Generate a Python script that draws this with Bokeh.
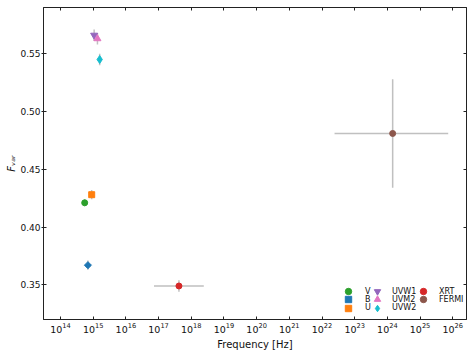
import numpy as np
from bokeh.plotting import figure
from bokeh.models import (LogAxis, LinearAxis, FixedTicker, Legend, LegendItem,
                          Range1d, PrintfTickFormatter)
from bokeh.embed import file_html
from bokeh.resources import INLINE

# ---- data ----
bands = ["V", "B", "U", "UVW1", "UVM2", "UVW2", "XRT", "FERMI"]
freq = [5.5e14, 6.9e14, 9.0e14, 1.07e15, 1.35e15, 1.58e15, 4.2e17, 1.45e24]
freq_lo = [5.5e14, 6.9e14, 9.0e14, 1.07e15, 1.35e15, 1.58e15, 7.25e16, 2.42e22]
freq_hi = [5.5e14, 6.9e14, 9.0e14, 1.07e15, 1.35e15, 1.58e15, 2.42e18, 7.25e25]
fvar = [0.421, 0.367, 0.428, 0.566, 0.563, 0.545, 0.349, 0.481]
fvar_err = [0.003, 0.004, 0.004, 0.005, 0.005, 0.005, 0.005, 0.047]
colors = ["#2ca02c", "#1f77b4", "#ff7f0e", "#9467bd", "#e377c2", "#17becf",
          "#d62728", "#8c564b"]
markers = ["circle", "square", "square", "inverted_triangle", "triangle",
           "diamond", "circle", "circle"]
angles = [0, np.pi / 4, 0, 0, 0, 0, 0, 0]
sizes = [6, 5, 6, 7, 7, 8, 6, 6]
x_ticks = [10.0 ** k for k in range(14, 27)]
y_ticks = [0.35, 0.40, 0.45, 0.50, 0.55]
# legend grid: (column, row) of each band, 3 columns x 3 rows
legend_cells = [(0, 0), (0, 1), (0, 2), (1, 0), (1, 1), (1, 2), (2, 0), (2, 1)]

FONT = "DejaVu Sans"

p = figure(width=474, height=355, x_axis_type="log", output_backend="svg",
           toolbar_location=None,
           x_range=Range1d(10 ** 13.48, 10 ** 26.42), y_range=Range1d(0.32, 0.59),
           min_border_left=43, min_border_right=8, min_border_top=7,
           min_border_bottom=36)
p.background_fill_color = "white"
p.border_fill_color = "white"
p.grid.visible = False
p.outline_line_color = "#222222"
p.outline_line_width = 1

# error bars
ylo = [v - e for v, e in zip(fvar, fvar_err)]
yhi = [v + e for v, e in zip(fvar, fvar_err)]
p.segment(x0=freq, y0=ylo, x1=freq, y1=yhi, line_color="#b0b0b0",
          line_width=1.5, line_alpha=0.8)
p.segment(x0=freq_lo, y0=fvar, x1=freq_hi, y1=fvar, line_color="#b0b0b0",
          line_width=1.5, line_alpha=0.8)

renderers = []
for i, b in enumerate(bands):
    r = p.scatter(x=[freq[i]], y=[fvar[i]], marker=markers[i], size=sizes[i],
                  angle=angles[i], fill_color=colors[i], line_color=colors[i])
    renderers.append(r)

# legend: one small legend per cell so the 3x3 grid is tight
col_x = [297, 326, 372]
col_standoff = [9, 7, 8]
row_y = [20, 11.7, 3.3]
for i, (c, rw) in enumerate(legend_cells):
    leg = Legend(items=[LegendItem(label=bands[i], renderers=[renderers[i]])],
                 location=(col_x[c], row_y[rw]), orientation="vertical",
                 label_text_font=FONT, label_text_font_size="8px",
                 label_text_color="#111111",
                 glyph_width=16, glyph_height=16, label_height=16,
                 label_standoff=col_standoff[c],
                 spacing=0, padding=0, margin=0, border_line_color=None,
                 background_fill_alpha=0)
    p.add_layout(leg, "center")

# axes styling
xa = p.xaxis[0]
xa.ticker = FixedTicker(ticks=x_ticks, minor_ticks=[])
xa.axis_label = "Frequency [Hz]"
ya = p.yaxis[0]
ya.ticker = FixedTicker(ticks=y_ticks, minor_ticks=[])
ya.formatter = PrintfTickFormatter(format="%.2f")
ya.axis_label = "F\u1d65\u2090\u1d63"

for ax in (xa, ya):
    ax.major_label_text_font = FONT
    ax.major_label_text_font_size = "9.5px"
    ax.major_label_text_color = "#111111"
    ax.axis_label_text_font = FONT
    ax.axis_label_text_font_size = "10px"
    ax.axis_label_text_font_style = "normal"
    ax.axis_label_text_color = "#111111"
    ax.major_tick_in = 3
    ax.major_tick_out = 0
    ax.minor_tick_in = 0
    ax.minor_tick_out = 0
    ax.axis_line_color = "#222222"
    ax.major_tick_line_color = "#222222"
    ax.major_label_standoff = 3
xa.axis_label_standoff = 3
ya.major_tick_out = 2
ya.major_label_standoff = 1
ya.axis_label_standoff = 0
ya.major_label_text_font_size = "9px"
ya.axis_label_text_font_style = "italic"

top = LogAxis(ticker=FixedTicker(ticks=x_ticks, minor_ticks=[]),
              major_label_text_font_size="1px", major_label_text_alpha=0,
              major_tick_in=3, major_tick_out=0,
              minor_tick_in=0, minor_tick_out=0, major_label_standoff=0,
              axis_line_color="#222222", major_tick_line_color="#222222")
right = LinearAxis(ticker=FixedTicker(ticks=y_ticks, minor_ticks=[]),
                   major_label_text_font_size="1px", major_label_text_alpha=0,
                   major_tick_in=3, major_tick_out=0,
                   minor_tick_in=0, minor_tick_out=0, major_label_standoff=0,
                   axis_line_color="#222222", major_tick_line_color="#222222")
p.add_layout(top, "above")
p.add_layout(right, "right")

open("out.html", "w").write(file_html(p, INLINE))
